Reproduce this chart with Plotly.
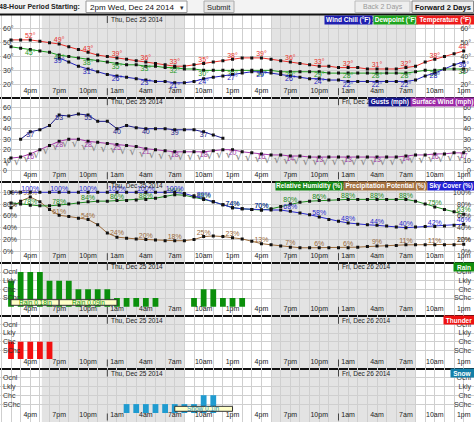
import plotly.graph_objects as go

FONT = "Liberation Sans"
W, H = 474, 422

# ---------------- data ----------------
hours = list(range(48))                      # hours after 2pm Wed, Dec 24 2014
tick_hours = list(range(2, 48, 3))
tick_labels = ["4pm", "7pm", "10pm", "1am", "4am", "7am", "10am", "1pm"] * 2
midnight_hours = [10, 34]
day_labels = ["Thu, Dec 25 2014", "Fri, Dec 26 2014"]
night_periods = [(3.2, 18.0), (27.1, 42.0)]

temperature = [52, 52, 52, 51, 50, 49, 47, 45, 43, 41, 40, 39, 38, 37, 36, 35, 34, 33, 33, 34, 35, 36, 37, 38,
               39, 39, 39, 38, 37, 36, 35, 34, 33, 33, 32, 32, 32, 31, 31, 31, 31, 32, 33, 36, 38, 40, 42, 44]
dewpoint = [47, 46, 45, 44, 43, 41, 40, 39, 38, 37, 36, 35, 34, 34, 33, 33, 32, 32, 31, 31, 30, 30, 30, 30,
            30, 30, 30, 30, 29, 29, 29, 29, 29, 28, 28, 28, 28, 28, 28, 28, 28, 28, 29, 30, 30, 31, 31, 31]
wind_chill = [None, None, None, None, None,
              39, 36, 33, 31, 29, 27, 26, 25, 24, 23, 22, 22, 21, 21, 22, 24, 25, 26, 27,
              28, 29, 29, 28, 27, 26, 25, 24, 24, 23, 23, 22, 22, 22, 22, 22, 22, 22, 23, 26, 28, 31, 34, 36]

gusts = [None, 30, 37, 39, 43, 53, 52, 54, 53, 47, 47, 40, 43, 41, 40, 40, 40, 39, 39, 39, 37, 34, 31] + [None] * 25
surface_wind = [12, 13, 16, 20, 24, 28, 30, 30, 28, 27, 26, 25, 24, 23, 21, 20, 19, 18, 18, 18, 18, 19, 20, 20,
                18, 17, 16, 15, 15, 14, 14, 13, 13, 13, 13, 13, 13, 13, 13, 13, 13, 14, 15, 15, 16, 16, 17, 17]

rel_humidity = [82, 80, 78, 77, 77, 78, 80, 82, 84, 85, 85, 86, 86, 87, 88, 90, 93, 96, 95, 92, 88, 84, 79, 74,
                72, 71, 70, 72, 76, 80, 83, 85, 86, 87, 88, 88, 88, 88, 88, 88, 88, 88, 85, 80, 75, 71, 67, 63]
precip_potential = [74, 85, 92, 84, 71, 61, 59, 56, 54, 45, 31, 24, 22, 21, 20, 19, 18, 18, 18, 20, 25, 26, 25, 23,
                    21, 17, 13, 11, 9, 7, 6, 6, 6, 6, 6, 6, 7, 8, 9, 9, 10, 11, 11, 11, 11, 11, 11, 12]
sky_cover = [100] * 18 + [98, 94, 89, 84, 79, 74,
             72, 71, 70, 70, 70, 68, 65, 62, 58, 54, 51, 48, 46, 45, 44, 43, 41, 40, 41, 42, 42, 43, 44, 46]

chance_labels = ["SChc", "Chc", "Lkly", "Ocnl"]
rain_level = [3, 4, 4, 4, 3, 3, 3, 2, 2, 2, 2, 1, 1, 1, 1, 1, 0, 0, 0, 1, 2, 2, 1, 1,
              1, 0, 0, 0, 0, 0, 0, 0, 0, 0, 0, 0, 0, 0, 0, 0, 0, 0, 0, 0, 0, 0, 0, 0]
thunder_level = [2, 2, 2, 2, 2] + [0] * 43
snow_level = [0] * 12 + [1, 1, 1, 1, 1, 1, 1, 1, 2, 2] + [0] * 26
rain_qpf = [(0, 5, "Rain 0.18in"), (5, 11, "Rain 0.09in")]
snow_qpf = [(17, 23, "Snow 0.1in")]

# ---------------- layout helpers ----------------
panels = [
    (14.5, 96.7, (20, 84.2), (60, 28.8)),
    (96.7, 180.7, (0, 170.7), (60, 107.7)),
    (180.7, 261.7, (0, 251.3), (100, 192.3)),
    (261.7, 315.3, (0, 306.7), (4, 272.0)),
    (315.3, 368.0, (0, 359.1), (4, 324.3)),
    (368.0, 422.0, (0, 413.0), (4, 377.4)),
]

def yrange(p):
    top, bot, (v1, p1), (v2, p2) = p
    k = (v2 - v1) / (p2 - p1)
    return [v1 + (bot - p1) * k, v1 + (top - p1) * k]

px_per_hour = (463.7 - 11.0) / 47
x0 = -11.0 / px_per_hour
XR = [x0, x0 + W / px_per_hour]

def py(px):
    return 1 - px / H

def pxx(px):
    return px / W

ytick_sets = [
    ([20, 30, 40, 50, 60], [f"{v}°" for v in [20, 30, 40, 50, 60]]),
    ([0, 10, 20, 30, 40, 50, 60], [str(v) for v in [0, 10, 20, 30, 40, 50, 60]]),
    ([0, 20, 40, 60, 80, 100], [f"{v}%" for v in [0, 20, 40, 60, 80, 100]]),
    ([1, 2, 3, 4], chance_labels),
    ([1, 2, 3, 4], chance_labels),
    ([1, 2, 3, 4], chance_labels),
]

GRID = "#cfcfcf"
fig = go.Figure()
layout = dict(width=W, height=H, margin=dict(l=0, r=0, t=0, b=0),
              paper_bgcolor="white", plot_bgcolor="rgba(0,0,0,0)",
              showlegend=False, font=dict(family=FONT, size=7, color="#222"),
              shapes=[], annotations=[])

for k, p in enumerate(panels, start=1):
    top, bot = p[0], p[1]
    xs = "" if k == 1 else str(k)
    dom = [py(bot), py(top)]
    rng = yrange(p)
    tv, tt = ytick_sets[k - 1]
    layout["xaxis" + xs] = dict(
        domain=[0, 1], range=XR, anchor="y" + xs, matches=None if k == 1 else "x",
        tickmode="array", tickvals=tick_hours, ticktext=tick_labels,
        ticklabelposition="inside", ticks="", ticklabelstandoff=1, ticklabeloverflow="allow",
        tickfont=dict(size=7, color="#222"),
        showgrid=True, gridcolor=GRID, gridwidth=1, zeroline=False,
        minor=dict(tickmode="linear", tick0=0, dtick=1, showgrid=True, gridcolor=GRID, gridwidth=1),
        showline=(k < 6), linecolor="#111", linewidth=2, fixedrange=True)
    layout["yaxis" + xs] = dict(
        domain=dom, range=rng, anchor="x" + xs, side="left",
        tickmode="array", tickvals=tv, ticktext=tt, ticklabelposition="inside", ticks="",
        ticklabeloverflow="allow", tickfont=dict(size=7, color="#333"),
        showgrid=True, gridcolor=GRID, gridwidth=1, zeroline=False, showline=False, fixedrange=True)
    rs = str(k + 6)
    layout["yaxis" + rs] = dict(
        overlaying="y" + xs, anchor="x" + xs, side="right", range=rng,
        tickmode="array", tickvals=tv, ticktext=tt, ticklabelposition="inside", ticks="",
        ticklabeloverflow="allow", tickfont=dict(size=7, color="#333"),
        showgrid=False, zeroline=False, showline=False, fixedrange=True)
    fig.add_trace(go.Scatter(x=[None], y=[None], xaxis="x" + xs, yaxis="y" + rs,
                             hoverinfo="skip", showlegend=False))
    for (a, b) in night_periods:
        layout["shapes"].append(dict(type="rect", xref="x" + xs, yref=f"y{xs} domain",
                                     x0=a, x1=b, y0=0, y1=1, fillcolor="#e3e3e3",
                                     line=dict(width=0), layer="below"))
    for m, lab in zip(midnight_hours, day_labels):
        for (a, b) in [(top + 1.5, top + 8.5), (bot - 8.5, bot - 1.5)]:
            layout["shapes"].append(dict(type="line", xref="x" + xs, yref="paper",
                                         x0=m, x1=m, y0=py(b), y1=py(a),
                                         line=dict(color="#444", width=1)))
        layout["annotations"].append(dict(
            xref="x" + xs, yref="paper", x=m, y=py(top + 5), xanchor="left", yanchor="middle",
            xshift=1.5, text=lab, showarrow=False, font=dict(size=6.5, color="#222")))

layout["shapes"].append(dict(type="line", xref="paper", yref="paper", x0=0, x1=1,
                             y0=py(14.5), y1=py(14.5), line=dict(color="#111", width=2)))

def xy(k):
    s = "" if k == 1 else str(k)
    return "x" + s, "y" + s

# wind barbs (drawn first so lines sit on top)
fig.add_trace(go.Scatter(x=hours, y=surface_wind, mode="text", xaxis="x2", yaxis="y2",
                         text=["√"] * len(hours), textposition="bottom left",
                         textfont=dict(size=11, color="#8a8a8a", family="DejaVu Sans"),
                         hoverinfo="skip"))

def line_series(k, y, color, label_fmt, label_pos):
    xa, ya = xy(k)
    fig.add_trace(go.Scatter(x=hours, y=y, mode="lines+markers", xaxis=xa, yaxis=ya,
                             line=dict(color=color, width=1),
                             marker=dict(symbol="square", size=3, color="#111"),
                             connectgaps=False, hoverinfo="skip"))
    lx = [hours[i] for i in tick_hours if y[i] is not None]
    ly = [y[i] for i in tick_hours if y[i] is not None]
    fig.add_trace(go.Scatter(x=lx, y=ly, mode="text", xaxis=xa, yaxis=ya,
                             text=[label_fmt.format(v) for v in ly], textposition=label_pos,
                             textfont=dict(size=7, color=color), hoverinfo="skip"))

line_series(1, temperature, "#e8302a", "{}°", "top center")
line_series(1, dewpoint, "#1e9a1e", "{}°", "bottom center")
line_series(1, wind_chill, "#2222bb", "{}°", "bottom center")

line_series(2, gusts, "#1c1c8c", "{}", "bottom center")
line_series(2, surface_wind, "#a23aa8", "{}", "bottom center")

line_series(3, precip_potential, "#9a6a3a", "{}%", "top center")
line_series(3, rel_humidity, "#1e8a1e", "{}%", "top center")
line_series(3, sky_cover, "#2a2acc", "{}%", "top center")

for k, lev, col in [(4, rain_level, "#0b8f0b"), (5, thunder_level, "#f21010"), (6, snow_level, "#1f9bd0")]:
    xa, ya = xy(k)
    fig.add_trace(go.Bar(x=hours, y=lev, xaxis=xa, yaxis=ya, width=0.6,
                         marker=dict(color=col, line=dict(width=0)), hoverinfo="skip"))

for k, qpf, col, (yb, yt) in [(4, rain_qpf, "#0b8f0b", (0.16, 0.81)), (6, snow_qpf, "#1f8fc0", (0.19, 0.75))]:
    xa, ya = xy(k)
    for a, b, txt in qpf:
        layout["shapes"].append(dict(type="rect", xref=xa, yref=ya, x0=a, x1=b, y0=yb, y1=yt,
                                     fillcolor="#ffffc8", line=dict(color="#333", width=1), layer="above"))
        layout["annotations"].append(dict(xref=xa, yref=ya, x=(a + b) / 2, y=(yb + yt) / 2,
                                          text=txt, showarrow=False, font=dict(size=6.5, color=col)))

legend_boxes = [
    (14.5, [(324.7, 371.3, "Wind Chill (°F)", "#1f1fb0"), (373.3, 416.7, "Dewpoint (°F)", "#1fa51f"),
            (417.3, 474, "Temperature (°F)", "#ee1c1c")]),
    (96.7, [(369.0, 410.7, "Gusts (mph)", "#16168a"), (410.7, 474, "Surface Wind (mph)", "#9c2aa6")]),
    (180.7, [(275.7, 342.3, "Relative Humidity (%)", "#178a17"), (343.3, 426.7, "Precipitation Potential (%)", "#a3703f"),
             (428.0, 474, "Sky Cover (%)", "#2323d6")]),
    (261.7, [(454.0, 474, "Rain", "#0f8f0f")]),
    (315.3, [(444.0, 474, "Thunder", "#ee1111")]),
    (368.0, [(451.3, 474, "Snow", "#137fa8")]),
]
for top, boxes in legend_boxes:
    for a, b, txt, bg in boxes:
        layout["annotations"].append(dict(
            xref="paper", yref="paper", x=pxx((a + b) / 2), y=py(top + 5), xanchor="center", yanchor="middle",
            width=b - a, height=8, bgcolor=bg, borderpad=0, showarrow=False,
            text=f"<b>{txt}</b>", font=dict(size=6.5, color="white")))

layout["shapes"].append(dict(type="rect", xref="paper", yref="paper", x0=0, x1=1, y0=py(13.5), y1=1,
                             fillcolor="#f3f3f3", line=dict(width=0), layer="below"))
def button(a, b, fill, border):
    layout["shapes"].append(dict(type="rect", xref="paper", yref="paper", x0=pxx(a), x1=pxx(b),
                                 y0=py(12.5), y1=py(1.0), fillcolor=fill, line=dict(color=border, width=1)))
button(86, 187, "white", "#999")
button(204, 234, "#e8e8e8", "#aaa")
button(355, 410, "#eeeeee", "#bbb")
button(412, 473.5, "#eeeeee", "#888")
def label(xp, txt, anchor, size=7.5, color="#111", bold=False):
    layout["annotations"].append(dict(xref="paper", yref="paper", x=pxx(xp), y=py(7), xanchor=anchor,
                                      yanchor="middle", showarrow=False,
                                      text=f"<b>{txt}</b>" if bold else txt,
                                      font=dict(size=size, color=color)))
label(82, "48-Hour Period Starting:", "right", 7, "#222", True)
label(88, "2pm Wed, Dec 24 2014", "left", 8, "#111")
label(182, "▾", "center", 7, "#333")
label(219, "Submit", "center", 7.5, "#222")
label(382.5, "Back 2 Days", "center", 7, "#999")
label(443, "Forward 2 Days", "center", 7.5, "#111", True)

fig.update_layout(**layout)
fig.write_html("out.html", config={"displayModeBar": False},
               post_script="document.body.style.margin='0';document.body.style.padding='0';"
                           "document.body.style.overflow='hidden';")
